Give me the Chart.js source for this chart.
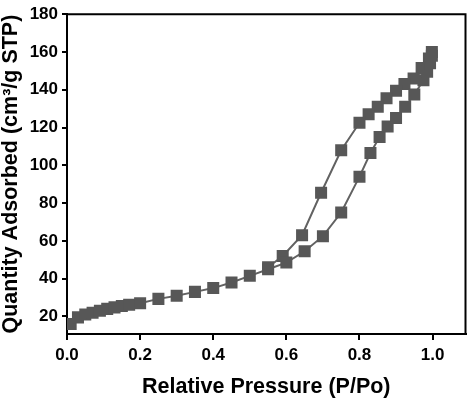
<!DOCTYPE html>
<html>
<head>
<meta charset="utf-8">
<script src="https://cdn.jsdelivr.net/npm/chart.js@4.4.1/dist/chart.umd.min.js"></script>
<style>
  html, body { margin: 0; padding: 0; background: #fff; }
  #wrap { width: 474px; height: 399px; }
</style>
</head>
<body>
<div id="wrap"><canvas id="grafico" width="474" height="399"></canvas></div>
<script>
// adsorption branch (lower)
const adsP = [0.01, 0.03, 0.05, 0.07, 0.09, 0.11, 0.13, 0.15, 0.17, 0.2, 0.25, 0.3, 0.35, 0.4, 0.45, 0.5, 0.55, 0.6, 0.65, 0.7, 0.75, 0.8, 0.83, 0.855, 0.877, 0.9, 0.925, 0.95, 0.975, 0.985, 0.993, 0.998];
const adsQ = [16, 19.5, 21, 22, 23, 24, 24.8, 25.5, 26.2, 27, 29.3, 31, 33, 35, 38, 41.5, 45, 48.5, 54.5, 62.5, 75, 94, 106.5, 115, 120.5, 125, 131, 137.5, 145, 149.5, 154, 158];
// desorption branch (upper)
const desP = [0.998, 0.99, 0.97, 0.948, 0.923, 0.9, 0.874, 0.85, 0.825, 0.8, 0.75, 0.695, 0.643, 0.59, 0.55];
const desQ = [160, 156.5, 151.5, 146, 143, 139.5, 135.5, 131, 127, 122.5, 108, 85.5, 63, 52, 46];

const xTicks = [0, 0.2, 0.4, 0.6, 0.8, 1.0];
const yTicks = [20, 40, 60, 80, 100, 120, 140, 160, 180];

const pontos = (xs, ys) => xs.map((x, i) => ({ x: x, y: ys[i] }));

const estiloSerie = {
  borderColor: '#626262',
  borderWidth: 2,
  backgroundColor: '#575757',
  pointStyle: 'rect',
  pointRadius: 8.5,
  pointBorderWidth: 0,
  pointBackgroundColor: '#575757',
  showLine: true,
  tension: 0,
  fill: false
};

// closes the box on top and right
const moldura = {
  id: 'moldura',
  afterDraw(chart) {
    const a = chart.chartArea, c = chart.ctx;
    c.save();
    c.strokeStyle = '#000';
    c.lineWidth = 2;
    c.beginPath();
    c.moveTo(a.left, a.top);
    c.lineTo(a.right, a.top);
    c.lineTo(a.right, a.bottom);
    c.stroke();
    c.restore();
  }
};

const fonteTick = { family: 'Liberation Sans, Arial, sans-serif', size: 17, weight: 'bold' };
const fonteTitulo = { family: 'Liberation Sans, Arial, sans-serif', size: 21.5, weight: 'bold' };

new Chart(document.getElementById('grafico').getContext('2d'), {
  type: 'line',
  data: {
    datasets: [
      Object.assign({ label: 'Adsorption', data: pontos(adsP, adsQ) }, estiloSerie),
      Object.assign({ label: 'Desorption', data: pontos(desP, desQ) }, estiloSerie)
    ]
  },
  options: {
    responsive: false,
    animation: false,
    layout: { padding: { top: 3, right: 4, left: 0, bottom: 0 } },
    plugins: { legend: { display: false }, tooltip: { enabled: false } },
    scales: {
      x: {
        type: 'linear',
        min: 0,
        max: 1.09,
        afterBuildTicks: s => { s.ticks = xTicks.map(v => ({ value: v })); },
        afterFit: s => { s.height = 65; },
        ticks: { color: '#000', font: fonteTick, padding: 5, callback: v => v.toFixed(1), maxRotation: 0 },
        grid: { drawOnChartArea: false, drawTicks: true, tickLength: 6, color: '#000', lineWidth: 2 },
        border: { color: '#000', width: 2 },
        title: { display: true, text: 'Relative Pressure (P/Po)', color: '#000', font: fonteTitulo, padding: { top: 0, bottom: -1 } }
      },
      y: {
        min: 10.7,
        max: 180,
        afterBuildTicks: s => { s.ticks = yTicks.map(v => ({ value: v })); },
        afterFit: s => { s.width = 67; },
        ticks: { color: '#000', font: fonteTick, padding: 4 },
        grid: { drawOnChartArea: false, drawTicks: true, tickLength: 5, color: '#000', lineWidth: 2 },
        border: { color: '#000', width: 2 },
        title: { display: true, text: 'Quantity Adsorbed (cm³/g STP)', color: '#000', font: fonteTitulo, padding: { top: -2, bottom: 0 } }
      }
    }
  },
  plugins: [moldura]
});
</script>
</body>
</html>
